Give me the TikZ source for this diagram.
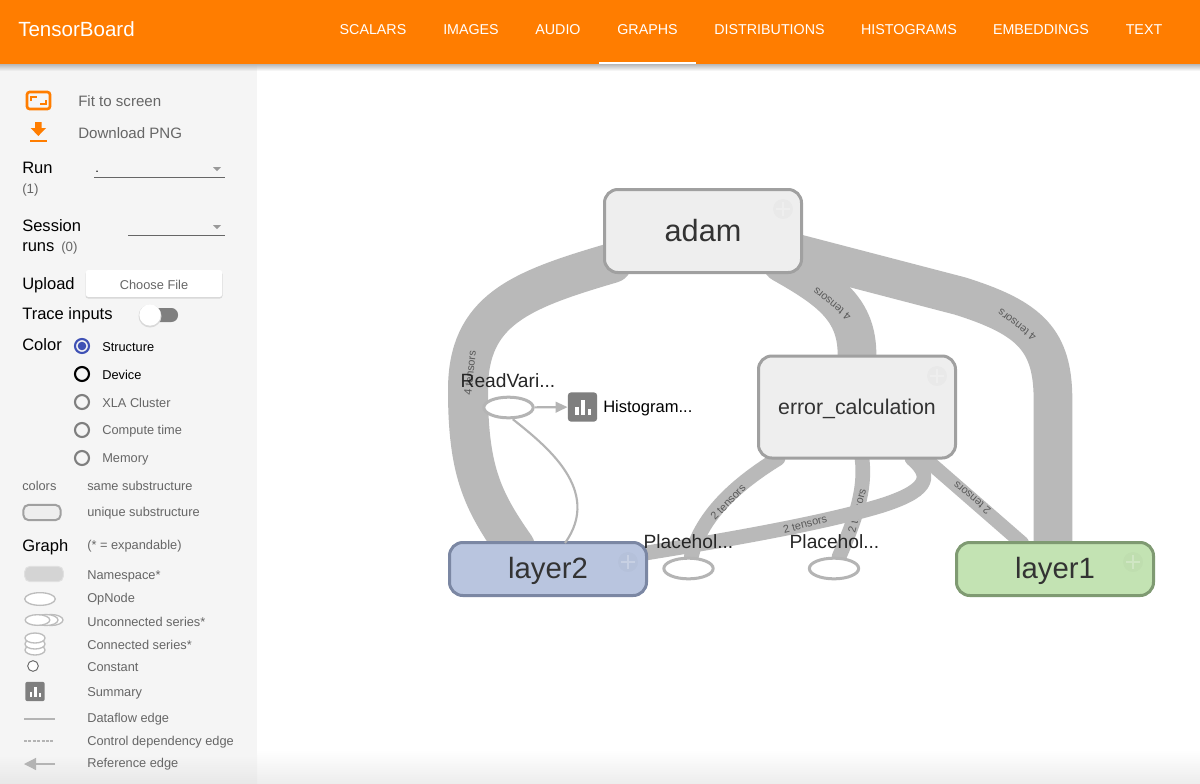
\documentclass[tikz,border=0pt]{standalone}
\usepackage{fontspec}
\setmainfont{Liberation Sans}
\usetikzlibrary{arrows.meta,shapes.geometric,calc}
\pgfdeclarelayer{bands}
\pgfsetlayers{bands,main}
\definecolor{tborange}{HTML}{FF7D00}
\definecolor{panel}{HTML}{F5F5F5}
\definecolor{bandgray}{HTML}{B9B9B9}
\definecolor{opgray}{HTML}{B4B4B4}
\definecolor{boxfill}{HTML}{EEEEEE}
\definecolor{boxline}{HTML}{A0A0A0}
\definecolor{sumgray}{HTML}{7F7F7F}
\definecolor{labelgray}{HTML}{666666}
\definecolor{radioblue}{HTML}{3F51B5}
\definecolor{layertwofill}{HTML}{B9C5DF}
\definecolor{layertwoline}{HTML}{7B87A3}
\definecolor{layeronefill}{HTML}{C3E3B3}
\definecolor{layeroneline}{HTML}{7F9A72}
\newcommand{\fs}[1]{\fontsize{#1}{#1}\selectfont}
\newcommand{\drop}[2]{\raisebox{-#1}[0pt][0pt]{#2}}
\newcommand{\sumbars}[2]{\foreach \a/\b/\h in {0.24/0.38/0.28,0.45/0.6/0.52,0.69/0.8/0.2}
  \fill[white] ($(#1.south west)+(\a*#2,-0.23*#2)$) rectangle ($(#1.south west)+(\b*#2,-0.23*#2-\h*#2)$);}
\newcommand{\addicon}[1]{\fill[black,opacity=0.02] (#1) circle (10);
  \draw[white,opacity=0.25,line width=1.8pt] ($(#1)+(-7,0)$) -- ($(#1)+(7,0)$) ($(#1)+(0,-7)$) -- ($(#1)+(0,7)$);}
\tikzset{
  tab/.style={anchor=center,inner sep=0,text=white,font=\fs{10.7}},
  sidetext/.style={anchor=west,inner sep=0,text=labelgray,font=\fs{9.6},yshift=-0.75pt},
  sidehead/.style={anchor=west,inner sep=0,text=black,font=\fs{12.4},yshift=-0.75pt},
  plain/.style={anchor=west,inner sep=0,text=labelgray,font=\fs{11.3}},
  ns/.style={rectangle,rounded corners=10pt,draw=boxline,fill=boxfill,line width=2.25pt,text=black!80,
    minimum width=147.75pt,inner sep=0},
  opnode/.style={ellipse,draw=opgray,fill=white,line width=2.25pt,minimum width=37pt,minimum height=15.5pt,inner sep=0},
  oplabel/.style={inner sep=0,text=black!85,font=\fs{14.4}},
  band/.style={draw=bandgray,line cap=round},
  edgelabel/.style={inner sep=0,text=black!65,font=\fs{8.2}},
  radio/.style={circle,draw=#1,line width=1.6pt,minimum size=10.5pt,inner sep=0},
  legendop/.style={draw=boxline!70,fill=white,line width=1pt}
}
\begin{document}
\begin{tikzpicture}[x=0.75pt,y=-0.75pt]
\useasboundingbox (0,0) rectangle (1200,783);
\begin{pgfonlayer}{bands}
\fill[white] (0,0) rectangle (1200,783);
\fill[panel] (0,64) rectangle (257,783);
\shade[top color=white,bottom color=black!7] (257,750) rectangle (1200,783);
\shade[top color=panel,bottom color=black!9] (0,755) rectangle (257,783);
\end{pgfonlayer}
\shade[top color=black!28,bottom color=panel] (0,64) rectangle (257,71);
\shade[top color=black!28,bottom color=white] (257,64) rectangle (1200,71);
\fill[tborange] (0,0) rectangle (1200,64);
\node[tab,anchor=west,font=\fs{15.4}] (title) at (18,29) {TensorBoard};
\foreach \name/\x in {SCALARS/373,IMAGES/471,AUDIO/558,GRAPHS/647.5,DISTRIBUTIONS/769.5,HISTOGRAMS/909,EMBEDDINGS/1041,TEXT/1144}
  \node[tab] (tab\name) at (\x,29.5) {\name};
\fill[white] (599,62) rectangle (696,64);

\node[ns,minimum height=62.25pt,font=\fs{23}] (adam) at (703,231) {\drop{7.6pt}{adam}};
\node[ns,minimum height=76.5pt,font=\fs{16}] (error) at (857,407) {\drop{5.4pt}{error\_calculation}};
\node[ns,minimum height=39.75pt,font=\fs{22},fill=layertwofill,draw=layertwoline] (layer2) at (548,569) {\drop{7.2pt}{layer2}};
\node[ns,minimum height=39.75pt,font=\fs{22},fill=layeronefill,draw=layeroneline] (layer1) at (1055,569) {\drop{7.2pt}{layer1}};

\addicon{783,209}
\addicon{937,376}
\addicon{628,562}
\addicon{1133,562}

\node[opnode] (readvar) at (508.5,407.5) {};
\node[opnode] (ph1) at (688.5,568.5) {};
\node[opnode] (ph2) at (834,568.5) {};
\node[oplabel] (readlabel) at (508,381) {ReadVari...};
\node[oplabel] (ph1label) at (688.5,542) {Placehol...};
\node[oplabel] (ph2label) at (834.5,542) {Placehol...};
\node[rectangle,rounded corners=2.5pt,fill=sumgray,minimum size=22pt,inner sep=0] (hist) at (582.5,407) {};
\sumbars{hist}{29}
\node[oplabel,anchor=west,font=\fs{12.4},text=black] (histlabel) at (603,408) {Histogram...};
\draw[opgray,line width=1.6pt,-{Triangle[length=9pt,width=8pt]}] (readvar) -- (hist);

\begin{pgfonlayer}{bands}
\draw[band,line width=30pt] ([shift={(9,-11)}]adam.south west) .. controls (520,290) and (468,310) .. (468,390)
  .. controls (468,470) and (482,500) .. ([shift={(-33,6)}]layer2.north);
\draw[band,line width=29pt] ([shift={(-21,-11)}]adam.south east) .. controls (830,290) and (857,310) .. (error.north);
\draw[band,line width=29pt] ([shift={(-8,-21)}]adam.south east) -- (960,296)
  .. controls (1030,318) and (1053,340) .. (1053,400) -- (1053,545);
\draw[band,line width=11pt] ([shift={(21,-1)}]error.south west) .. controls (730,488) and (700,520) .. (ph1);
\draw[band,line width=11pt] ([shift={(5,-1)}]error.south) .. controls (866,490) and (855,520) .. (ph2);
\node[edgelabel,rotate=76] (l2) at (857,511) {2 tensors};
\draw[band,line width=11pt] ([shift={(55,-1)}]error.south) .. controls (935,478) and (925,492) .. (880,506)
  .. controls (820,524) and (720,541) .. ([shift={(-2,-16)}]layer2.east);
\draw[band,line width=10.5pt] ([shift={(-32,-1)}]error.south east) -- ([shift={(-33,2)}]layer1.north);
\node[edgelabel,rotate=84] (l1) at (470,373) {4 tensors};
\node[edgelabel,rotate=141] (l3) at (832,304) {4 tensors};
\node[edgelabel,rotate=143] (l4) at (1017,325) {4 tensors};
\node[edgelabel,rotate=46] (l5) at (728,502) {2 tensors};
\node[edgelabel,rotate=15] (l6) at (805,524) {2 tensors};
\node[edgelabel,rotate=140] (l7) at (972,498) {2 tensors};
\end{pgfonlayer}
\draw[opgray,line width=1.6pt] (readvar.-70) .. controls (545,445) and (603,490) .. ([shift={(17,2)}]layer2.north);

\draw[tborange,line width=2pt,rounded corners=2pt] (27,92) rectangle (50,109);
\draw[tborange,line width=1.5pt] (31,101) -- (31,97) -- (37,97) (46,100) -- (46,104) -- (40,104);
\fill[tborange] (35,122) -- (41.7,122) -- (41.7,128) -- (46,128) -- (38.3,136) -- (30.7,128) -- (35,128) -- cycle;
\fill[tborange] (30,140) rectangle (46.7,141.7);
\node[plain] (fit) at (78,101) {Fit to screen};
\node[plain] (png) at (78,133) {Download PNG};

\node[sidehead] (run) at (22,167) {Run};
\node[sidetext,font=\fs{10}] (runcount) at (22,189) {(1)};
\node[sidetext,text=black] (rundot) at (95,171) {.};
\draw[black!60,line width=0.7pt] (94,177) -- (225,177);
\fill[black!40] (213,167) -- (221,167) -- (217,171) -- cycle;
\node[sidehead] (session) at (22,225) {Session};
\node[sidehead] (runs) at (22,246) {runs};
\node[sidetext,font=\fs{10}] (sessioncount) at (61,247) {(0)};
\draw[black!60,line width=0.7pt] (128,235) -- (225,235);
\fill[black!40] (213,225) -- (221,225) -- (217,229) -- cycle;

\node[sidehead] (upload) at (22,284) {Upload};
\fill[black!15,rounded corners=2pt] (85.5,271.5) rectangle (222.5,298.5);
\node[rectangle,rounded corners=1.5pt,fill=white,minimum width=102pt,minimum height=20pt,inner sep=0,text=labelgray,font=\fs{9.6}] (choose) at (154,283.5) {\drop{4.5pt}{Choose File}};
\node[sidehead] (trace) at (22,314) {Trace inputs};
\fill[sumgray,rounded corners=5pt] (150,308) rectangle (178,322);
\fill[black!15] (150,316) circle (11.5);
\node[circle,fill=white,minimum size=16pt,inner sep=0] (knob) at (150,315) {};

\node[sidehead] (color) at (22,344) {Color};
\foreach \y/\c/\t/\name in {346/radioblue/black/Structure,374/black/black/Device,402/sumgray/labelgray/XLA Cluster,430/sumgray/labelgray/Compute time,458/sumgray/labelgray/Memory}{
  \node[radio=\c] (radio\y) at (82,\y) {};
  \node[sidetext,text=\t] (radiotext\y) at (102,\y) {\name};
}
\fill[radioblue] (radio346) circle (4.3);
\node[sidetext] (colors) at (22,485) {colors};
\node[sidetext] (same) at (87,485) {same substructure};
\node[rectangle,rounded corners=4pt,draw=boxline,fill=boxfill,line width=1.5pt,minimum width=28pt,minimum height=11.5pt,inner sep=0] (unique) at (42,512.5) {};
\node[sidetext] (uniquetext) at (87,512) {unique substructure};

\node[sidehead] (graph) at (22,546) {Graph};
\node[sidetext] (expand) at (87,545) {(* = expandable)};
\node[rectangle,rounded corners=4pt,fill=black!17,draw=black!12,line width=0.75pt,minimum width=29pt,minimum height=11.5pt,inner sep=0] (namespace) at (44,574) {};
\node[sidetext] (nstext) at (87,575.5) {Namespace*};
\node[ellipse,legendop,minimum width=23pt,minimum height=9.5pt,inner sep=0] (legop) at (40,599) {};
\node[sidetext] (optext) at (87,598) {OpNode};
\draw[legendop] (51,620) ellipse (12 and 5.5);
\draw[legendop] (46,620) ellipse (12 and 5.5);
\node[ellipse,legendop,minimum width=18.5pt,minimum height=8pt,inner sep=0] (legseries) at (37.5,620) {};
\node[sidetext] (unconn) at (87,621) {Unconnected series*};
\foreach \y in {650,644,638}
  \draw[legendop] (35,\y) ellipse (10 and 5);
\node[sidetext] (conn) at (87,644) {Connected series*};
\node[circle,draw=black!60,fill=white,line width=0.7pt,minimum size=8pt,inner sep=0] (legconst) at (33,666) {};
\node[sidetext] (consttext) at (87,666) {Constant};
\node[rectangle,rounded corners=1.5pt,fill=sumgray,minimum size=14.5pt,inner sep=0] (legsum) at (35,691.5) {};
\sumbars{legsum}{19.5}
\node[sidetext] (sumtext) at (87,692) {Summary};
\coordinate (flowa) at (24,719);
\coordinate (flowb) at (55,719);
\draw[opgray,line width=0.9pt] (flowa) -- (flowb);
\node[sidetext] (flowtext) at (87,718) {Dataflow edge};
\coordinate (ctrla) at (24,741);
\coordinate (ctrlb) at (54,741);
\draw[opgray,line width=0.9pt,dash pattern=on 2.2pt off 1.1pt] (ctrla) -- (ctrlb);
\node[sidetext] (ctrltext) at (87,741) {Control dependency edge};
\coordinate (refa) at (55,764);
\coordinate (refb) at (24,764);
\draw[opgray,line width=0.9pt,-{Triangle[length=9pt,width=9pt]}] (refa) -- (refb);
\node[sidetext] (reftext) at (87,763) {Reference edge};
\end{tikzpicture}
\end{document}
